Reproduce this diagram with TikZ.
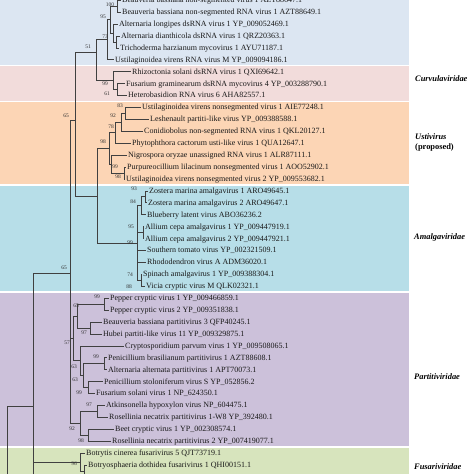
\documentclass[tikz,border=0pt]{standalone}
\usepackage{fontspec}
\setmainfont{Liberation Serif}
\definecolor{bandA}{RGB}{220,230,242}
\definecolor{bandB}{RGB}{242,220,219}
\definecolor{bandC}{RGB}{252,213,181}
\definecolor{bandD}{RGB}{183,222,232}
\definecolor{bandE}{RGB}{204,193,218}
\definecolor{bandF}{RGB}{215,228,189}
\tikzset{
  leaf/.style={anchor=west,inner xsep=1pt,inner ysep=0pt,text height=6pt,text depth=1pt,font=\fontsize{8}{9}\selectfont,text=black!90},
  bs/.style={inner sep=0pt,font=\fontsize{5.5}{6}\selectfont,text=black!80},
  br/.style={draw=black!75,line width=0.6pt},
  band/.style={draw=none},
  fam/.style={anchor=west,inner sep=0pt,font=\fontsize{8.4}{10}\selectfont\bfseries\itshape,align=left}
}
\begin{document}
\begin{tikzpicture}[x=1pt,y=-1pt]
\useasboundingbox (0,0) rectangle (474,474);
\clip (0,0) rectangle (474,474);
% bands
\fill[bandA] (0,-2) rectangle (408.5,64.8);
\fill[bandB] (0,66.4) rectangle (408.5,100.6);
\fill[bandC] (0,102.2) rectangle (408.5,184.1);
\fill[bandD] (0,185.7) rectangle (408.5,291.4);
\fill[bandE] (0,293.0) rectangle (408.5,446.2);
\fill[bandF] (0,447.8) rectangle (408.5,476);
% family labels
\node[fam] (fCur) at (415,79) {Curvulaviridae};
\node[fam] (fUst) at (415,142) {Ustivirus\\\upshape(proposed)};
\node[fam] (fAma) at (414,237) {Amalgaviridae};
\node[fam] (fPar) at (414,377) {Partitiviridae};
\node[fam] (fFus) at (414,467) {Fusariviridae};
% leaves
\node[leaf] (l0) at (121,0.1) {Beauveria bassiana non-segmented virus 1 AZT88647.1};
\node[leaf] (l1) at (121,12.0) {Beauveria bassiana non-segmented RNA virus 1 AZT88649.1};
\node[leaf] (l2) at (118,23.9) {Alternaria longipes dsRNA virus 1 YP\_009052469.1};
\node[leaf] (l3) at (120,35.8) {Alternaria dianthicola dsRNA virus 1 QRZ20363.1};
\node[leaf] (l4) at (119,47.8) {Trichoderma harzianum mycovirus 1 AYU71187.1};
\node[leaf] (l5) at (114,59.7) {Ustilaginoidea virens RNA virus M YP\_009094186.1};
\node[leaf] (l6) at (131,71.6) {Rhizoctonia solani dsRNA virus 1 QXI69642.1};
\node[leaf] (l7) at (125,83.5) {Fusarium graminearum dsRNA mycovirus 4 YP\_003288790.1};
\node[leaf] (l8) at (127,95.4) {Heterobasidion RNA virus 6 AHA82557.1};
\node[leaf] (l9) at (141,107.4) {Ustilaginoidea virens nonsegmented virus 1 AIE77248.1};
\node[leaf] (l10) at (149,119.3) {Leshenault partiti-like virus YP\_009388588.1};
\node[leaf] (l11) at (143,131.2) {Conidiobolus non-segmented RNA virus 1 QKL20127.1};
\node[leaf] (l12) at (131,143.1) {Phytophthora cactorum usti-like virus 1 QUA12647.1};
\node[leaf] (l13) at (127,155.0) {Nigrospora oryzae unassigned RNA virus 1 ALR87111.1};
\node[leaf] (l14) at (126,167.0) {Purpureocillium lilacinum nonsegmented virus 1 AOO52902.1};
\node[leaf] (l15) at (125,178.9) {Ustilaginoidea virens nonsegmented virus 2 YP\_009553682.1};
\node[leaf] (l16) at (148,190.8) {Zostera marina amalgavirus 1 ARO49645.1};
\node[leaf] (l17) at (147,202.7) {Zostera marina amalgavirus 2 ARO49647.1};
\node[leaf] (l18) at (146,214.6) {Blueberry latent virus ABO36236.2};
\node[leaf] (l19) at (144,226.6) {Allium cepa amalgavirus 1 YP\_009447919.1};
\node[leaf] (l20) at (144,238.5) {Allium cepa amalgavirus 2 YP\_009447921.1};
\node[leaf] (l21) at (146,250.4) {Southern tomato virus YP\_002321509.1};
\node[leaf] (l22) at (146,262.3) {Rhododendron virus A ADM36020.1};
\node[leaf] (l23) at (142,274.2) {Spinach amalgavirus 1 YP\_009388304.1};
\node[leaf] (l24) at (145,286.2) {Vicia cryptic virus M QLK02321.1};
\node[leaf] (l25) at (109,298.1) {Pepper cryptic virus 1 YP\_009466859.1};
\node[leaf] (l26) at (109,310.0) {Pepper cryptic virus 2 YP\_009351838.1};
\node[leaf] (l27) at (102,321.9) {Beauveria bassiana partitivirus 3 QFP40245.1};
\node[leaf] (l28) at (102,333.8) {Hubei partiti-like virus 11 YP\_009329875.1};
\node[leaf] (l29) at (124,345.8) {Cryptosporidium parvum virus 1 YP\_009508065.1};
\node[leaf] (l30) at (107,357.7) {Penicillium brasilianum partitivirus 1 AZT88608.1};
\node[leaf] (l31) at (107,369.6) {Alternaria alternata partitivirus 1 APT70073.1};
\node[leaf] (l32) at (103,381.5) {Penicillium stoloniferum virus S YP\_052856.2};
\node[leaf] (l33) at (95,393.4) {Fusarium solani virus 1 NP\_624350.1};
\node[leaf] (l34) at (105,405.4) {Atkinsonella hypoxylon virus NP\_604475.1};
\node[leaf] (l35) at (108,417.3) {Rosellinia necatrix partitivirus 1-W8 YP\_392480.1};
\node[leaf] (l36) at (114,429.2) {Beet cryptic virus 1 YP\_002308574.1};
\node[leaf] (l37) at (111,441.1) {Rosellinia necatrix partitivirus 2 YP\_007419077.1};
\node[leaf] (l38) at (85,453.0) {Botrytis cinerea fusarivirus 5 QJT73719.1};
\node[leaf] (l39) at (87,464.9) {Botryosphaeria dothidea fusarivirus 1 QHI00151.1};
\coordinate (l40) at (100,476.9);
% internal nodes
\coordinate (a01) at (117,6.0);
\coordinate (a34) at (116,41.8);
\coordinate (a234) at (113,32.9);
\coordinate (a04) at (110,19.4);
\coordinate (a05) at (107,39.6);
\coordinate (c78) at (117,89.5);
\coordinate (c678) at (113,80.5);
\coordinate (bp) at (96,52);
\coordinate (o910) at (125,113.3);
\coordinate (o911) at (121,122.3);
\coordinate (o912) at (115,132.7);
\coordinate (o1415) at (124,172.9);
\coordinate (o1315) at (111,164);
\coordinate (o915) at (109,148.4);
\coordinate (m1617) at (145,196.7);
\coordinate (m1618) at (141,205.7);
\coordinate (m1920) at (143,232.5);
\coordinate (m2324) at (141,280.2);
\coordinate (am) at (137,243);
\coordinate (oa) at (97,196);
\coordinate (t) at (75,120);
\coordinate (p2526) at (104,304);
\coordinate (p2728) at (90,327.9);
\coordinate (p2528) at (77,316);
\coordinate (p3031) at (104,363.7);
\coordinate (p3233) at (88,387.5);
\coordinate (p3033) at (83,375.6);
\coordinate (p2933) at (80,360.7);
\coordinate (p2533) at (73,338.4);
\coordinate (p3435) at (97,411.4);
\coordinate (p3637) at (88,435.2);
\coordinate (p3437) at (80,423.3);
\coordinate (xn) at (70,273);
\coordinate (f39) at (84,470.9);
\coordinate (f80) at (80,462);
\coordinate (n33) at (33,406);
\coordinate (offB) at (60,520);
\coordinate (rt) at (7,440);
\coordinate (offC) at (30,520);
% branches
\draw[br] (a01) |- (l0.west) (a01) |- (l1.west);
\draw[br] (a34) |- (l3.west) (a34) |- (l4.west);
\draw[br] (a234) |- (l2.west) (a234) |- (a34);
\draw[br] (a04) |- (a01) (a04) |- (a234);
\draw[br] (a05) |- (a04) (a05) |- (l5.west);
\draw[br] (c78) |- (l7.west) (c78) |- (l8.west);
\draw[br] (c678) |- (l6.west) (c678) |- (c78);
\draw[br] (bp) |- (a05) (bp) |- (c678);
\draw[br] (o910) |- (l9.west) (o910) |- (l10.west);
\draw[br] (o911) |- (o910) (o911) |- (l11.west);
\draw[br] (o912) |- (o911) (o912) |- (l12.west);
\draw[br] (o1415) |- (l14.west) (o1415) |- (l15.west);
\draw[br] (o1315) |- (l13.west) (o1315) |- (o1415);
\draw[br] (o915) |- (o912) (o915) |- (o1315);
\draw[br] (m1617) |- (l16.west) (m1617) |- (l17.west);
\draw[br] (m1618) |- (m1617) (m1618) |- (l18.west);
\draw[br] (m1920) |- (l19.west) (m1920) |- (l20.west);
\draw[br] (m2324) |- (l23.west) (m2324) |- (l24.west);
\draw[br] (am) |- (m1618) (am) |- (m1920) (am) |- (l21.west) (am) |- (l22.west) (am) |- (m2324);
\draw[br] (oa) |- (o915) (oa) |- (am);
\draw[br] (t) |- (bp) (t) |- (oa);
\draw[br] (p2526) |- (l25.west) (p2526) |- (l26.west);
\draw[br] (p2728) |- (l27.west) (p2728) |- (l28.west);
\draw[br] (p2528) |- (p2526) (p2528) |- (p2728);
\draw[br] (p3031) |- (l30.west) (p3031) |- (l31.west);
\draw[br] (p3233) |- (l32.west) (p3233) |- (l33.west);
\draw[br] (p3033) |- (p3031) (p3033) |- (p3233);
\draw[br] (p2933) |- (l29.west) (p2933) |- (p3033);
\draw[br] (p2533) |- (p2528) (p2533) |- (p2933);
\draw[br] (p3435) |- (l34.west) (p3435) |- (l35.west);
\draw[br] (p3637) |- (l36.west) (p3637) |- (l37.west);
\draw[br] (p3437) |- (p3435) (p3437) |- (p3637);
\draw[br] (xn) |- (t) (xn) |- (p2533) (xn) |- (p3437);
\draw[br] (f39) |- (l39.west) (f39) |- (l40);
\draw[br] (f80) |- (l38.west) (f80) |- (f39);
\draw[br] (n33) |- (xn) (n33) |- (f80) (n33) |- (offB);
\draw[br] (rt) |- (n33) (rt) |- (offC);
% bootstrap values
\node[bs] (b1) at (110,5) {100};
\node[bs] (b2) at (103,17) {95};
\node[bs] (b3) at (105,37) {73};
\node[bs] (b4) at (88,47) {51};
\node[bs] (b5) at (105,84) {99};
\node[bs] (b6) at (107,94) {61};
\node[bs] (b7) at (120,106) {83};
\node[bs] (b8) at (113,116) {92};
\node[bs] (b9) at (111,127) {78};
\node[bs] (b10) at (103,142) {98};
\node[bs] (b11) at (115,167) {99};
\node[bs] (b12) at (118,177) {98};
\node[bs] (b13) at (134,189) {93};
\node[bs] (b14) at (133,202) {84};
\node[bs] (b15) at (131,227) {95};
\node[bs] (b16) at (130,243) {99};
\node[bs] (b17) at (130,275) {74};
\node[bs] (b18) at (129,287) {88};
\node[bs] (b19) at (66,116) {65};
\node[bs] (b20) at (64,268) {65};
\node[bs] (b21) at (97,297) {99};
\node[bs] (b22) at (76,306) {65};
\node[bs] (b23) at (84,333) {97};
\node[bs] (b24) at (67,343) {57};
\node[bs] (b25) at (96,357) {99};
\node[bs] (b26) at (74,367) {63};
\node[bs] (b27) at (75,380) {63};
\node[bs] (b28) at (79,393) {99};
\node[bs] (b29) at (89,405) {97};
\node[bs] (b30) at (72,429) {92};
\node[bs] (b31) at (81,441) {98};
\node[bs] (b32) at (74,464) {96};
\end{tikzpicture}
\end{document}
